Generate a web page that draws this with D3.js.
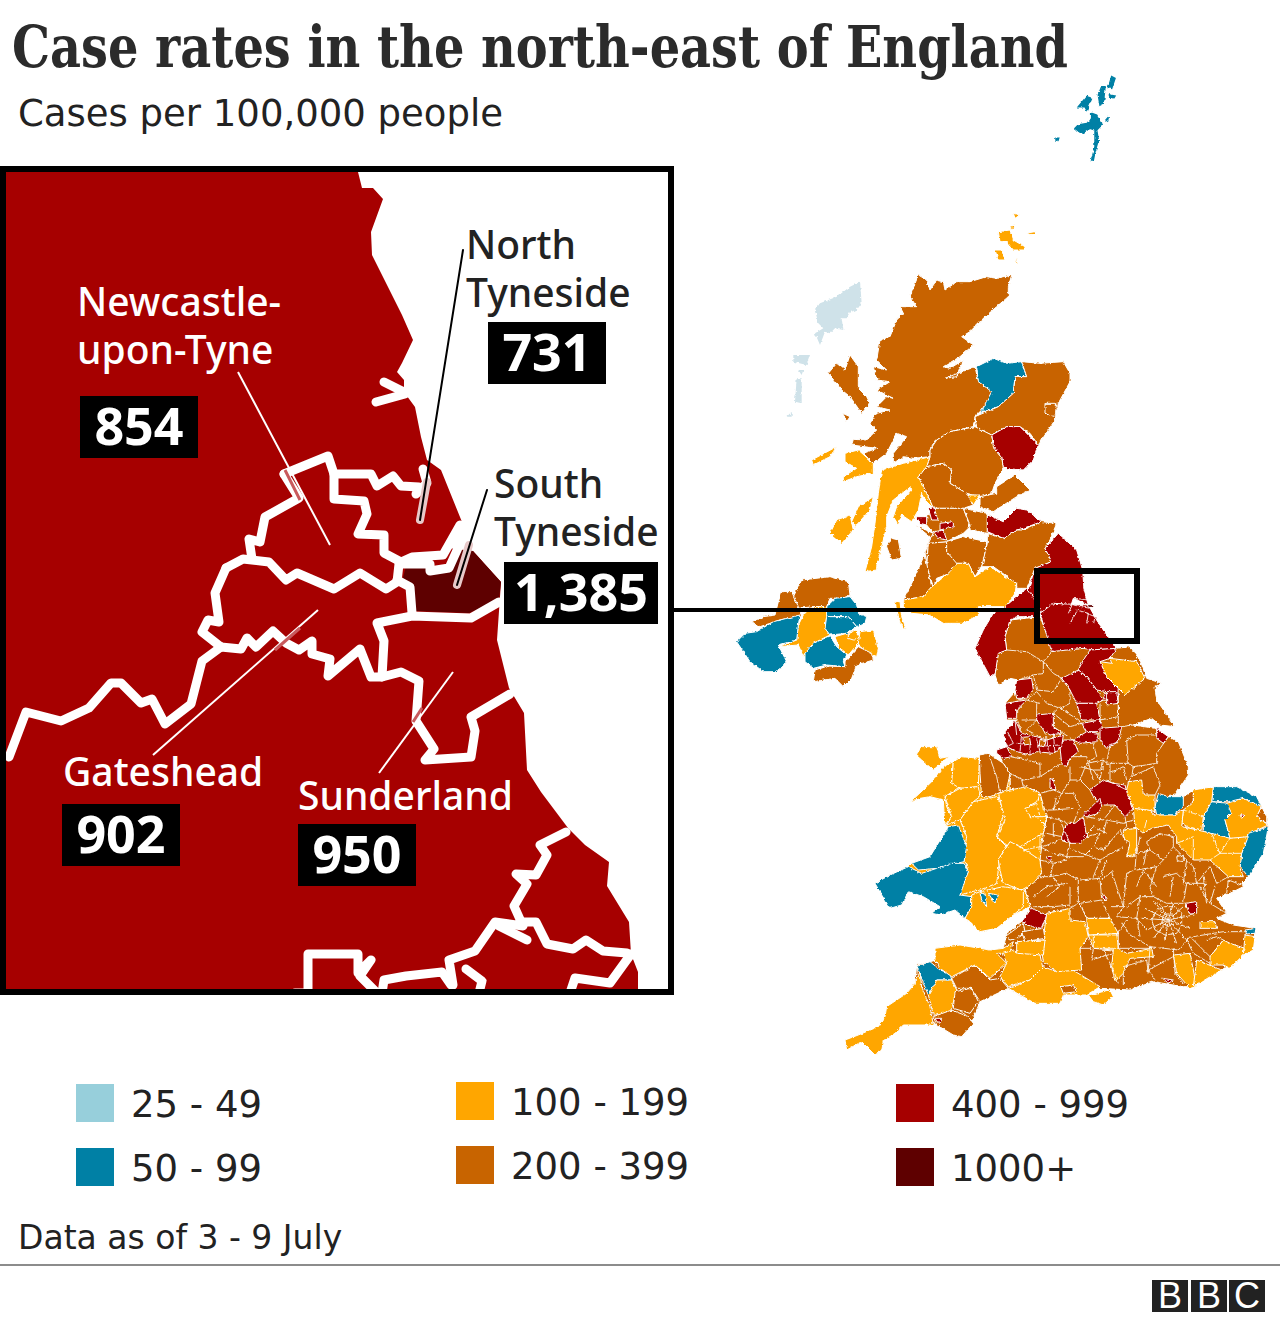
<!DOCTYPE html>
<html>
<head>
<meta charset="utf-8">
<script src="https://cdn.jsdelivr.net/npm/d3@7"></script>
<style>
  html, body { margin: 0; padding: 0; background: #fff; }
  svg text { font-family: "Noto Sans", sans-serif; }
</style>
</head>
<body>
<svg id="chart" width="1280" height="1326">
  <!-- frays the traced coasts and borders a little, like the source map -->
  <filter id="fray" filterUnits="userSpaceOnUse" x="700" y="50" width="580" height="1020">
    <feTurbulence type="fractalNoise" baseFrequency="0.3" numOctaves="2" seed="4" result="noise"></feTurbulence>
    <feDisplacementMap in="SourceGraphic" in2="noise" scale="3.2" xChannelSelector="R" yChannelSelector="G"></feDisplacementMap>
  </filter>
</svg>
<script>
// rate bands
var bandStarts = [50, 100, 200, 400, 1000];
var bandColours = ["#97cfdb", "#0080a5", "#ffa600", "#c86400", "#a60000", "#5e0000"];
var legendLabels = ["25 - 49", "50 - 99", "100 - 199", "200 - 399", "400 - 999", "1000+"];
var legendColumn = [0, 0, 1, 1, 2, 2];
var legendRow = [0, 1, 0, 1, 0, 1];

// callouts in the inset
var calloutNames = [["Newcastle-", "upon-Tyne"], ["North", "Tyneside"], ["South", "Tyneside"], ["Gateshead"], ["Sunderland"]];
var calloutValues = ["854", "731", "1,385", "902", "950"];

// traced outlines, [estimated rate, [x, y], ...], in the units of each sheet
var shetland = [
  [75, [125,285],[135,245],[135,195],[120,190],[95,205],[75,190],[85,180],[115,175],[125,160],[125,145],[140,150],[155,175],[150,185],[140,195],[145,225],[135,260],[130,285]],
  [75, [145,90],[155,65],[165,65],[160,115],[150,120]],
  [75, [175,68],[185,35],[195,40],[185,70]],
  [75, [178,90],[195,93],[192,98],[180,96]],
  [75, [85,125],[110,95],[125,100],[110,135],[105,125]],
  [75, [18,220],[26,220],[24,226],[18,225]],
  [75, [168,165],[175,157],[172,168]]
];

var scotland = [
  [300, [565,225],[590,240],[600,270],[620,240],[640,245],[645,270],[680,245],[720,245],[770,230],[800,235],[845,225],[835,260],[835,290],[800,320],[760,355],[720,395],[695,410],[730,435],[690,470],[640,500],[660,505],[700,480],[680,530],[645,535],[735,500],[745,545],[790,570],[775,610],[745,640],[735,650],[730,680],[660,695],[620,720],[600,750],[600,770],[550,775],[520,770],[490,790],[490,760],[530,710],[500,700],[470,760],[430,790],[400,760],[440,745],[365,735],[370,718],[410,720],[440,690],[420,670],[440,640],[480,630],[440,620],[470,590],[490,595],[440,570],[480,545],[440,540],[430,500],[470,510],[440,480],[450,420],[480,410],[500,360],[520,340],[510,320],[560,320],[540,290]],
  [75, [740,500],[790,475],[830,490],[875,485],[890,530],[855,530],[850,580],[805,620],[750,640],[785,575],[745,545]],
  [300, [875,485],[930,490],[1000,485],[1020,520],[1020,545],[985,610],[975,660],[925,735],[900,700],[870,680],[830,680],[785,705],[740,685],[735,650],[805,620],[850,580],[855,530],[890,530]],
  [300, [945,610],[980,610],[975,650],[945,640]],
  [700, [785,705],[830,680],[870,680],[900,710],[925,735],[910,780],[880,810],[820,805],[815,770],[790,740]],
  [300, [600,750],[620,720],[660,695],[735,680],[785,705],[790,740],[815,770],[820,805],[795,850],[785,880],[750,890],[710,880],[660,850],[665,810],[640,790],[590,800],[600,770]],
  [300, [800,880],[800,860],[855,825],[900,870],[860,890],[790,935],[750,920],[750,890]],
  [150, [710,885],[750,885],[730,915]],
  [300, [565,830],[590,800],[640,790],[665,810],[660,850],[710,880],[730,915],[700,925],[650,925],[610,925],[590,880]],
  [150, [600,770],[590,800],[565,830],[590,880],[610,925],[590,905],[575,880],[565,930],[545,965],[515,945],[505,975],[490,950],[500,920],[545,868],[540,862],[490,900],[470,950],[470,980],[455,1040],[440,1100],[440,1110],[405,1115],[425,1040],[435,970],[445,880],[455,810],[520,790]],
  [150, [345,760],[385,750],[430,790],[430,820],[380,830],[340,845],[340,830],[380,805],[345,785]],
  [150, [245,780],[320,740],[300,770],[250,795]],
  [150, [385,920],[430,890],[420,930],[375,980],[365,965]],
  [150, [320,960],[360,945],[370,990],[335,1030],[300,1000]],
  [300, [485,1015],[505,1020],[515,1075],[485,1080],[470,1040]],
  [300, [360,465],[385,500],[385,565],[410,590],[420,610],[395,640],[360,590],[335,570],[295,520],[320,490],[345,510]],
  [300, [338,640],[360,650],[350,665]],
  [150, [805,95],[840,90],[850,120],[885,140],[885,150],[850,150],[830,125],[810,125]],
  [150, [795,150],[815,150],[825,180],[805,180]],
  [150, [855,180],[865,175],[860,195]],
  [150, [840,80],[855,75],[850,90]],
  [150, [885,100],[915,95],[915,105]],
  [150, [850,40],[870,45],[855,55]],
  [300, [555,975],[610,1000],[595,1030],[590,1090],[585,1060],[600,1010]],
  [300, [595,1030],[650,1025],[650,1055],[690,1090],[660,1120],[620,1135],[610,1160],[590,1100]],
  [300, [590,1090],[605,1160],[580,1190],[520,1200],[555,1130],[585,1060]],
  [300, [650,1025],[700,1010],[770,1025],[760,1090],[735,1130],[715,1090],[680,1090],[650,1055]],
  [300, [610,925],[650,925],[700,925],[720,980],[700,1000],[650,1025],[595,1030],[610,1000],[590,975],[590,950]],
  [300, [700,925],[772,940],[772,1000],[720,990],[720,975]],
  [700, [555,950],[590,950],[590,975],[570,970]],
  [700, [595,925],[610,920],[625,960],[605,960]],
  [700, [630,970],[670,965],[670,980],[630,990]],
  [700, [610,995],[640,990],[650,1020],[625,1015]],
  [700, [772,945],[820,965],[860,925],[890,930],[935,965],[880,985],[860,990],[820,1015],[772,995]],
  [300, [772,1000],[820,1015],[860,990],[880,990],[935,965],[980,970],[960,1020],[945,1045],[965,1085],[915,1105],[890,1165],[860,1165],[860,1150],[790,1100],[755,1100],[772,1030]],
  [150, [680,1090],[715,1090],[735,1130],[780,1100],[860,1150],[855,1180],[830,1220],[745,1220],[745,1245],[700,1270],[640,1270],[600,1245],[545,1240],[520,1220],[520,1200],[580,1190],[600,1165],[660,1115]],
  [150, [495,1205],[510,1205],[515,1250],[530,1290],[510,1270]],
  [700, [985,1000],[1040,1050],[1058,1110],[1062,1170],[1075,1215],[1030,1195],[1015,1240],[950,1270],[920,1215],[890,1185],[915,1105],[965,1085],[945,1045]]
];

var westernIsles = [
  [390,245],[395,310],[380,330],[360,335],[350,355],[335,355],[340,390],[315,385],[300,400],[285,395],[270,435],[255,400],[280,385],[265,370],[255,330],[270,310],[320,290],[360,260]
];
var westernIslesSmall = [
  [[190,465],[240,465],[230,495],[190,485]],
  [[200,535],[215,535],[215,610],[195,605]],
  [[205,510],[220,510],[215,525]],
  [[170,650],[185,635],[185,650]]
];

var ulster = [
  [300, [215,45],[300,35],[355,50],[360,90],[340,100],[300,100],[290,125],[250,125],[205,130],[190,95]],
  [300, [155,80],[185,80],[205,125],[215,150],[150,165],[90,185],[65,170],[100,155],[135,150],[145,110]],
  [75, [290,125],[315,100],[360,95],[380,120],[385,145],[410,155],[405,175],[380,185],[355,155],[290,155]],
  [150, [245,125],[290,125],[290,155],[285,190],[300,210],[250,235],[220,275],[205,240],[145,245],[200,225],[205,180],[220,150]],
  [75, [20,230],[45,205],[80,200],[130,170],[210,150],[205,180],[200,225],[145,240],[170,290],[140,320],[100,320],[60,290]],
  [75, [290,155],[355,155],[380,185],[350,205],[300,210],[285,190]],
  [150, [315,215],[350,205],[370,195],[390,215],[385,235],[355,270],[325,245]],
  [150, [355,205],[375,197],[390,215],[370,225],[355,220]],
  [150, [390,200],[430,195],[445,250],[440,275],[425,270],[390,245],[385,235]],
  [75, [225,265],[250,235],[300,213],[320,245],[350,270],[340,290],[345,305],[290,300],[250,310],[225,290]],
  [300, [345,290],[385,245],[425,265],[430,285],[380,300],[365,340],[340,365],[315,340],[250,350],[255,315],[290,303],[345,305]]
];

var south = [
  // England base
  [300, [500,90],[495,50],[510,0],[600,-10],[640,90],[730,85],[830,85],[870,80],[900,120],[920,175],[965,190],[945,200],[950,240],[1005,320],[960,315],[935,295],[880,315],[945,325],[985,350],[1015,365],[1045,440],[1045,465],[1005,525],[985,530],[1030,530],[1060,510],[1120,500],[1190,500],[1250,530],[1280,590],[1285,620],[1270,700],[1225,770],[1205,790],[1210,800],[1170,820],[1130,835],[1160,880],[1130,895],[1180,915],[1245,925],[1240,990],[1210,1005],[1145,1050],[1060,1100],[1030,1100],[940,1085],[870,1110],[780,1105],[700,1075],[660,1150],[585,1150],[500,1105],[420,1145],[390,1220],[350,1250],[280,1210],[190,1215],[165,1240],[130,1262],[125,1290],[105,1305],[65,1265],[20,1290],[15,1260],[55,1245],[115,1220],[135,1190],[140,1160],[200,1120],[225,1090],[230,1035],[290,1020],[285,985],[360,975],[450,990],[490,985],[500,940],[550,900],[570,860],[555,810],[600,760],[600,720],[540,680],[610,640],[620,590],[590,545],[600,520],[510,510],[510,460],[490,430],[470,390],[500,380],[490,345],[530,300],[500,300],[495,250],[530,210],[535,180],[510,175],[475,195],[465,165],[475,100]],
  // Wales base, closes the gaps between the traced counties
  [150, [212,545],[260,500],[290,470],[310,440],[340,425],[365,410],[418,415],[445,400],[510,460],[510,510],[600,520],[620,590],[610,640],[600,720],[600,760],[555,810],[570,860],[520,885],[470,925],[420,935],[390,905],[375,895],[345,870],[300,885],[275,880],[300,860],[250,830],[205,815],[185,855],[150,865],[125,825],[105,790],[150,765],[205,740],[215,730],[270,710],[325,620],[315,615],[335,590],[320,560],[315,530],[310,540],[270,530],[240,535]],
  // north-east and Cumbria
  [700, [560,-95],[580,-70],[600,-10],[530,-10],[510,0],[495,50],[500,90],[475,100],[465,165],[450,170],[405,85],[430,30],[460,-20],[495,-40]],
  [700, [600,-20],[640,-50],[745,-45],[770,0],[790,30],[830,85],[760,90],[730,85],[635,95]],
  [1200, [742,-46],[760,-46],[762,-37],[745,-38]],
  // Wales
  [150, [245,380],[290,380],[300,415],[325,410],[280,450],[245,420],[228,405]],
  [150, [212,545],[260,500],[290,470],[310,440],[340,425],[335,490],[360,500],[315,530],[320,560],[335,590],[315,615],[312,580],[310,540],[270,530],[240,535]],
  [150, [340,425],[365,410],[418,415],[415,500],[360,505],[335,490]],
  [300, [418,405],[445,400],[490,430],[510,460],[500,510],[450,530],[425,530],[420,460]],
  [150, [315,530],[360,505],[415,500],[420,530],[400,545],[360,600],[320,615],[335,590]],
  [150, [360,600],[400,545],[470,530],[495,570],[470,650],[500,680],[480,710],[470,790],[420,810],[395,815],[360,825],[370,780],[385,755],[370,710],[380,650]],
  [75, [215,730],[270,710],[325,620],[355,615],[380,680],[372,725],[330,735],[290,745],[235,750]],
  [75, [105,790],[150,765],[205,740],[245,760],[290,745],[335,730],[372,730],[385,755],[360,825],[395,830],[395,860],[375,895],[345,870],[300,885],[275,880],[300,860],[250,830],[205,815],[185,855],[150,865],[125,825]],
  [150, [395,825],[420,815],[490,800],[550,810],[550,860],[520,885],[470,925],[420,935],[390,905],[375,895],[395,860]],
  [75, [420,820],[435,820],[440,860],[425,840]],
  [75, [445,820],[475,825],[465,850]],
  // Welsh marches
  [150, [475,520],[510,510],[560,500],[600,520],[590,545],[555,565],[580,590],[620,590],[610,640],[540,680],[500,675],[470,650],[495,600]],
  [150, [510,665],[540,680],[600,720],[605,760],[580,790],[545,810],[490,790],[480,750],[475,720]],
  // south-west
  [150, [15,1260],[55,1245],[115,1220],[135,1190],[140,1160],[200,1120],[225,1090],[240,1055],[245,1100],[270,1160],[280,1215],[190,1215],[165,1240],[130,1262],[125,1290],[105,1305],[65,1265],[20,1290]],
  [75, [228,1040],[270,1025],[300,1050],[330,1060],[335,1080],[290,1080],[265,1125],[250,1090],[240,1060]],
  [150, [290,1080],[335,1080],[350,1110],[335,1165],[325,1185],[280,1185],[265,1125]],
  [300, [280,1190],[335,1170],[385,1190],[400,1210],[365,1250],[340,1245],[290,1215]],
  [700, [283,1195],[305,1195],[300,1210]],
  [300, [345,1115],[395,1105],[415,1145],[390,1180],[340,1165]],
  [300, [335,1075],[405,1035],[450,1080],[480,1075],[505,1105],[420,1145],[395,1105],[350,1105]],
  [150, [285,985],[360,975],[450,990],[490,985],[520,965],[510,1000],[470,1000],[500,1030],[450,1075],[405,1035],[335,1070],[300,1045],[285,1020]],
  [150, [490,1000],[520,990],[600,1005],[610,1050],[570,1080],[505,1100],[480,1070],[500,1030]],
  [150, [505,1105],[570,1080],[610,1040],[650,1055],[690,1045],[780,1100],[740,1125],[670,1125],[660,1150],[585,1150]],
  [150, [620,880],[690,865],[690,900],[735,905],[745,950],[720,985],[725,1050],[650,1055],[610,1025],[605,990]],
  [300, [495,950],[550,910],[555,935],[530,955],[510,960]],
  [300, [545,935],[610,925],[615,955],[555,965]],
  [150, [530,965],[615,960],[610,1005],[530,1000]],
  [700, [575,865],[620,885],[605,925],[575,920],[545,905]],
  [300, [662,1100],[700,1095],[710,1115],[670,1120]],
  [150, [745,1125],[810,1110],[820,1130],[790,1155],[760,1145]],
  // south and south-east
  [150, [745,945],[830,940],[835,985],[860,1000],[935,985],[940,1010],[870,1015],[850,1060],[825,1085],[815,1040],[820,990],[760,985]],
  [150, [740,895],[810,895],[835,940],[745,945]],
  [150, [1000,1005],[1050,1000],[1070,1100],[1050,1105],[1010,1060]],
  [150, [1070,1020],[1120,1040],[1145,1050],[1060,1100]],
  [150, [1110,1010],[1150,960],[1170,970],[1215,985],[1210,1005],[1170,1045],[1150,1035],[1110,1035]],
  [150, [1215,945],[1245,950],[1240,990],[1210,1005]],
  [75, [1215,930],[1248,925],[1245,940],[1220,942]],
  [150, [1080,905],[1125,905],[1130,925],[1080,925]],
  [700, [1035,850],[1070,845],[1070,880],[1050,882]],
  [700, [968,1075],[1000,1080],[985,1090]],
  [700, [785,830],[795,825],[800,845]],
  [700, [620,710],[635,710],[632,725]],
  // East Anglia
  [75, [1120,500],[1190,500],[1250,530],[1265,560],[1210,535],[1165,545],[1115,545]],
  [75, [1090,590],[1110,545],[1170,550],[1175,580],[1155,600],[1170,655],[1115,650],[1090,630]],
  [75, [955,520],[985,530],[1030,530],[1030,560],[1000,585],[950,585],[945,560]],
  [150, [1160,550],[1210,535],[1265,560],[1250,590],[1285,615],[1230,640],[1225,655],[1170,655],[1155,600],[1175,580]],
  [700, [1200,585],[1215,585],[1205,595]],
  [300, [1265,560],[1280,590],[1280,610],[1250,590]],
  [75, [1225,640],[1285,620],[1270,700],[1225,770],[1200,740],[1205,700]],
  [150, [1060,510],[1120,500],[1115,545],[1090,590],[1085,635],[1050,625],[1025,610],[1030,570],[1060,545]],
  [150, [880,565],[925,570],[945,585],[1000,585],[1030,570],[1025,620],[1050,625],[1115,640],[1170,655],[1225,650],[1205,700],[1200,745],[1210,770],[1165,770],[1110,720],[1060,720],[1010,670],[1010,650],[985,615],[935,625],[910,640],[885,620]],
  [150, [865,485],[905,480],[910,525],[945,525],[945,575],[925,570],[880,565],[860,510]],
  [150, [850,630],[890,625],[890,680],[880,710],[860,710],[870,670],[850,655]],
  // Yorkshire and the north
  [150, [780,125],[815,130],[810,115],[890,125],[915,175],[855,225],[835,205],[800,170]],
  [700, [730,120],[750,90],[830,85],[810,115],[780,125],[800,170],[835,205],[830,250],[790,235],[800,215],[770,210],[740,170],[715,150]],
  [700, [665,175],[715,150],[740,170],[770,210],[790,240],[770,250],[710,250],[690,210]],
  [700, [800,215],[830,215],[835,250],[800,255]],
  [700, [710,250],[770,250],[780,300],[725,300]],
  [700, [725,310],[780,300],[790,335],[740,335]],
  [700, [780,325],[845,320],[835,365],[800,385],[780,360]],
  [700, [700,360],[740,335],[775,340],[770,365],[720,370]],
  [700, [950,325],[985,350],[970,370],[950,355]],
  [700, [670,360],[700,360],[715,395],[690,415],[680,440],[665,430],[660,380]],
  [700, [530,180],[575,175],[580,210],[560,235],[530,235],[525,210]],
  [700, [495,250],[560,240],[530,270],[530,295],[500,295]],
  [700, [490,345],[525,300],[545,340],[590,350],[620,360],[670,345],[665,380],[640,400],[590,395],[570,405],[530,395],[500,380]],
  [300, [548,352],[568,350],[572,372],[552,375]],
  [300, [600,358],[618,362],[612,380],[598,378]],
  [700, [470,390],[500,380],[515,410],[490,415],[470,400]],
  [700, [590,285],[640,280],[640,320],[665,340],[630,345],[610,330],[590,300]],
  [700, [630,475],[640,480],[648,510],[630,505]],
  // midlands
  [700, [750,510],[790,480],[820,490],[855,495],[860,515],[880,565],[855,590],[825,555],[790,555],[760,530]],
  [700, [730,585],[780,535],[785,560],[775,580],[740,590]],
  [700, [665,650],[680,610],[705,610],[730,590],[740,650],[720,670],[690,670],[665,660]],
  [150, [555,565],[590,550],[600,590],[570,590]]
];

// thin district borders with no change of colour
var districtLines = [
  [[610,125],[640,160],[665,175],[690,210],[690,250],[660,265]],
  [[500,90],[560,95],[610,125],[640,90]],
  [[580,165],[610,160],[610,125]],[[535,180],[580,165],[590,210],[640,215],[665,175]],
  [[530,240],[565,235],[590,215],[620,250],[660,265],[700,290],[725,310]],
  [[780,250],[780,300],[835,290],[835,250]],[[835,225],[835,320]],[[845,320],[950,305]],
  [[860,360],[890,345],[950,345]],[[860,360],[865,430],[880,440],[950,430],[950,400],[985,350]],
  [[875,470],[940,440],[960,495],[945,525]],[[800,430],[810,375],[835,365]],[[800,430],[865,430]],[[880,440],[875,470],[865,485]],
  [[515,410],[600,430],[600,470],[550,480],[510,460]],[[445,400],[470,470],[480,520]],[[600,470],[640,445],[665,430]],[[545,480],[550,500]],
  [[600,520],[640,510],[665,520],[690,480],[690,440]],[[690,410],[740,410],[760,480]],
  [[600,520],[610,570],[640,570],[665,520]],[[620,590],[660,600],[680,610]],[[620,640],[665,650]],
  [[610,680],[660,660],[690,670],[680,710],[730,710],[760,680],[780,640],[740,650]],
  [[550,690],[600,680],[640,700],[680,710]],[[600,720],[640,730],[630,770],[600,770]],
  [[630,770],[680,760],[715,780],[715,850],[690,865]],[[580,830],[620,800],[680,790]],
  [[720,780],[780,775],[785,840],[720,850]],[[640,860],[690,855]],[[785,780],[815,755],[850,860],[830,890]],
  [[740,895],[720,850]],[[810,895],[785,840]],[[700,690],[780,720],[760,770]],
  [[760,680],[790,690],[840,630],[860,670]],[[780,720],[850,680]],
  [[790,600],[825,555]],[[855,590],[860,620],[850,630]],[[740,590],[790,600]],[[720,480],[750,510]],
  [[690,480],[720,480],[740,430],[790,420],[800,430]],[[790,420],[780,480]],[[740,430],[770,410],[760,370]],[[860,510],[800,480]],[[690,670],[660,600]],
  [[860,710],[890,700],[930,690]],[[890,680],[885,750],[860,760],[850,860]],[[890,750],[950,740],[970,720]],
  [[950,740],[930,800],[940,830]],[[1000,680],[1040,720],[1060,740],[1070,790]],[[960,640],[920,665],[930,690],[970,720],[1000,680],[1000,650],[960,640]],
  [[970,770],[1010,760],[1040,790],[1030,850]],[[1070,790],[1110,740],[1130,790],[1165,770]],[[1070,790],[1110,850],[1160,880]],[[1110,850],[1125,800]],
  [[1165,780],[1205,795]],[[1165,780],[1160,820]],[[940,830],[980,850],[1030,850]],[[1040,790],[1100,790]],
  [[1010,710],[1030,705],[1030,725],[1012,722],[1010,710]],
  // more of the midlands and the east
  [[640,570],[650,530]],[[700,520],[720,560],[700,610]],[[665,520],[700,520]],[[640,570],[700,565]],[[640,610],[640,650]],
  [[780,480],[760,450],[720,440]],[[760,450],[790,450]],[[810,460],[850,440],[860,480]],[[810,430],[810,480]],
  [[880,600],[850,610],[800,600]],[[800,600],[790,640]],[[730,650],[760,620],[800,640]],[[600,600],[620,620]],
  [[600,690],[600,650]],[[640,730],[680,720]],[[640,770],[660,800],[620,830]],[[580,860],[640,860]],[[690,800],[690,860]],[[780,775],[800,720]],
  [[890,800],[910,750],[950,800]],[[860,860],[900,830],[940,830]],[[900,830],[890,895]],[[1000,770],[990,830]],[[1040,720],[1030,790]],[[1090,770],[1100,850]],
  [[920,690],[910,740]],[[890,700],[900,650]],[[1010,670],[1060,650],[1060,720]],[[1115,640],[1140,700],[1110,720]],[[1170,655],[1140,700]],[[1205,700],[1140,700]],
  [[1060,510],[1060,545]],[[1030,570],[1090,590]],[[910,640],[920,600]],
  [[815,860],[850,860]],[[720,850],[740,895],[810,895]],[[890,895],[920,930]],[[830,890],[890,895]],[[1040,960],[1060,1000]],[[835,985],[935,985]],
  // London
  [[985,900],[940,840]],[[985,900],[960,850]],[[985,900],[1000,850]],[[985,900],[1030,860]],[[985,900],[1060,885]],[[985,900],[1050,925]],[[985,900],[1040,960]],
  [[985,900],[1010,970]],[[985,900],[975,965]],[[985,900],[940,955]],[[985,900],[920,930]],[[985,900],[905,895]],[[985,900],[915,865]],
  [[950,870],[975,860],[1005,860],[1025,880],[1025,915],[1010,940],[975,945],[945,930],[935,900],[950,870]],
  [[970,885],[1000,885],[1005,905],[985,920],[965,910],[970,885]],
  // south of the Thames
  [[870,945],[930,980],[1015,990],[1050,950]],[[930,985],[925,1050],[945,1080]],[[1000,985],[1005,1060],[1030,1090]],
  [[760,945],[835,945],[835,985],[760,985],[760,945]],[[720,985],[760,985],[755,1020],[820,1000]],[[790,990],[820,1050],[835,1090]],
  [[850,1040],[920,1020],[925,1060]],[[850,1060],[850,1095]],[[925,1050],[1000,1010]],[[1050,950],[1110,1010]],
  [[1060,950],[1150,935],[1215,935]],[[1100,960],[1130,950],[1150,960],[1110,1010]],[[1060,1000],[1110,1030]],
  [[870,945],[840,900]],[[830,945],[860,900]],[[890,895],[900,950]],
  // Lancashire and Greater Manchester
  [[525,300],[530,345]],[[545,340],[540,395]],[[570,375],[570,405]],[[590,355],[600,395]],[[620,350],[625,395]],[[640,340],[645,400]],
  [[500,330],[520,370],[500,380]],[[530,370],[550,372]],[[615,378],[660,375]],[[545,300],[590,300]],[[590,300],[560,330],[600,350]],
  [[530,295],[545,335]],[[640,320],[700,360]],[[640,280],[660,260]],[[610,330],[620,350]],[[590,250],[590,285]],[[560,240],[600,250]],[[640,280],[690,320],[725,310]],
  // inside the inset box on the small map
  [[685,-20],[705,-65],[745,-60]],[[700,-45],[750,-35]],[[710,-30],[745,-20],[740,10]],[[740,-20],[765,-10],[760,15]],[[690,10],[710,-25]]
];

// the zoomed inset, drawn in picture pixels
var insetLand = [[6,172],[358,172],[362,188],[373,188],[383,199],[371,232],[372,255],[402,315],[413,340],[402,363],[397,372],[404,380],[404,392],[415,407],[421,437],[427,460],[441,470],[462,522],[448,548],[473,551],[501,582],[497,640],[509,688],[524,713],[527,770],[541,792],[568,828],[585,845],[609,862],[607,886],[629,922],[631,954],[638,972],[638,990],[6,990]];
var southTyneside = [[406,566],[430,566],[449,569],[460,550],[473,551],[501,582],[499,600],[469,613],[416,611],[412,587],[403,578]];
var insetBorders = [
  [[284,474],[328,456],[334,474],[371,474],[377,486],[393,476],[401,486],[419,487],[416,494],[427,483],[423,469]],
  [[334,474],[334,499],[364,501],[367,514],[358,534],[384,535],[384,553],[401,562],[412,557],[443,555],[460,525]],
  [[284,474],[299,498],[265,517],[260,542],[249,539],[252,559]],
  [[226,568],[243,559],[269,562],[286,580],[297,573],[334,589],[360,573],[386,589],[397,582],[399,564],[430,564],[430,571],[449,568],[458,548]],
  [[397,580],[410,587],[412,613]],
  [[499,602],[471,618],[412,616],[377,623],[384,641],[382,677]],
  [[226,568],[215,593],[219,622],[208,620],[202,632],[221,647]],
  [[221,647],[241,649],[247,638],[256,647],[273,631],[286,643],[299,650],[312,641],[312,654],[330,659],[328,676],[360,649],[371,677],[382,677],[401,672],[419,681],[416,721],[434,749],[425,760],[471,757],[475,731],[471,717],[510,694]],
  [[221,647],[202,661],[191,704],[165,724],[152,699],[141,703],[121,683],[111,683],[89,708],[61,721],[26,712],[9,757]],
  [[566,832],[540,845],[547,855],[536,875],[516,874],[527,884],[514,906],[523,926],[495,922],[475,951],[449,960],[453,985]],
  [[523,922],[536,922],[547,944],[573,949],[586,940],[603,951],[627,953]],
  [[499,926],[527,940]],
  [[451,985],[442,972],[406,976],[384,980],[382,993]],
  [[466,969],[482,981],[479,993]],
  [[295,993],[308,993],[308,954],[358,954],[358,973],[371,960],[360,976],[377,993]],
  [[631,954],[610,983],[575,978],[570,993]],
  // the two river mouths on the coast
  [[384,382],[404,392]],[[376,402],[405,394]]
];

var svg = d3.select("#chart");

var colour = d3.scaleThreshold().domain(bandStarts).range(bandColours);

// one line generator per traced sheet
function sheet(xd, xr, yd, yr) {
  var x = d3.scaleLinear().domain(xd).range(xr);
  var y = d3.scaleLinear().domain(yd).range(yr);
  return d3.line().x(d => x(d[0])).y(d => y(d[1]));
}
var scotLine = sheet([0, 1260], [730, 1150], [0, 1290], [200, 630]);
var southLine = sheet([0, 1320], [840, 1280], [0, 1320], [620, 1060]);
var ulsterLine = sheet([0, 480], [730, 890], [0, 390], [565, 695]);
var shetlandLine = sheet([0, 240], [1050, 1130], [0, 315], [65, 170]);
var pageLine = sheet([0, 1280], [0, 1280], [0, 1326], [0, 1326]);

var mapGroup = svg.append("g").attr("filter", "url(#fray)");

function drawAreas(rows, lineGen, strokeWidth) {
  mapGroup.append("g").selectAll("path").data(rows).join("path")
    .attr("d", d => lineGen(d.slice(1)) + "Z")
    .attr("fill", d => colour(d[0]))
    .attr("stroke", "#fff")
    .attr("stroke-width", strokeWidth)
    .attr("stroke-linejoin", "round");
}

// small map
mapGroup.append("g").selectAll("path").data(westernIslesSmall.concat([westernIsles])).join("path")
  .attr("d", d => scotLine(d) + "Z")
  .attr("fill", "#cfe2e9");
mapGroup.append("g").selectAll("path").data(shetland).join("path")
  .attr("d", d => shetlandLine(d.slice(1)) + "Z")
  .attr("fill", d => colour(d[0]))
  .attr("stroke", d => colour(d[0]))
  .attr("stroke-width", 1.5);
drawAreas(ulster, ulsterLine, 1);
drawAreas(scotland, scotLine, 1);
drawAreas(south, southLine, 1);
mapGroup.append("g").selectAll("path").data(districtLines).join("path")
  .attr("d", d => southLine(d))
  .attr("fill", "none")
  .attr("stroke", "#fff")
  .attr("stroke-width", 1)
  .attr("opacity", 0.85);

// where the inset sits
svg.append("rect").attr("x", 1037).attr("y", 571).attr("width", 100).attr("height", 70)
  .attr("fill", "none").attr("stroke", "#000").attr("stroke-width", 6);
svg.append("line").attr("x1", 672).attr("x2", 1037).attr("y1", 610).attr("y2", 610)
  .attr("stroke", "#000").attr("stroke-width", 4);

// inset
svg.append("path").attr("d", pageLine(insetLand) + "Z").attr("fill", colour(700));
svg.append("path").attr("d", pageLine(southTyneside) + "Z").attr("fill", colour(1385));
svg.append("g").selectAll("path").data(insetBorders).join("path")
  .attr("d", d => pageLine(d))
  .attr("fill", "none")
  .attr("stroke", "#fff")
  .attr("stroke-width", 9)
  .attr("stroke-linejoin", "round")
  .attr("stroke-linecap", "round");
svg.append("rect").attr("x", 3).attr("y", 169).attr("width", 668).attr("height", 823)
  .attr("fill", "none").attr("stroke", "#000").attr("stroke-width", 6);

// leader lines
var haloLines = [[[427, 482], [420, 520]], [[469, 545], [457, 585]]];
var tintLines = [[[285, 470], [300, 500]], [[300, 628], [275, 650]], [[422, 708], [413, 722]]];
var whiteLeaders = [[[238, 372], [330, 545]], [[318, 610], [153, 755]], [[453, 672], [379, 773]]];
var blackLeaders = [[[463, 250], [420, 520]], [[487, 490], [457, 585]]];

svg.append("g").selectAll("path").data(haloLines).join("path")
  .attr("d", d => pageLine(d)).attr("stroke", "#e8c9c9").attr("stroke-width", 8).attr("stroke-linecap", "round");
svg.append("g").selectAll("path").data(whiteLeaders).join("path")
  .attr("d", d => pageLine(d)).attr("stroke", "#fff").attr("stroke-width", 2);
svg.append("g").selectAll("path").data(tintLines).join("path")
  .attr("d", d => pageLine(d)).attr("stroke", "#c8595c").attr("stroke-width", 3);
svg.append("g").selectAll("path").data(blackLeaders).join("path")
  .attr("d", d => pageLine(d)).attr("stroke", "#000").attr("stroke-width", 2).attr("stroke-linecap", "round");

// callout labels and value boxes
var labelX = [77, 466, 494, 63, 298];
var labelY = [316, 259, 498, 786, 810];
var labelColour = ["#fff", "#222", "#222", "#fff", "#fff"];
var boxX = [80, 488, 504, 62, 298];
var boxY = [396, 322, 562, 804, 824];
var boxW = [118, 118, 154, 118, 118];

calloutNames.forEach((lines, i) => {
  var label = svg.append("text").attr("x", labelX[i]).attr("y", labelY[i])
    .attr("font-size", 39).attr("font-weight", 500).attr("fill", labelColour[i]);
  lines.forEach((line, j) => {
    label.append("tspan").attr("x", labelX[i]).attr("dy", j == 0 ? 0 : 48).text(line);
  });
  svg.append("rect").attr("x", boxX[i]).attr("y", boxY[i]).attr("width", boxW[i]).attr("height", 62).attr("fill", "#000");
  svg.append("text").attr("x", boxX[i] + boxW[i] / 2).attr("y", boxY[i] + 49)
    .attr("text-anchor", "middle").attr("font-size", 52).attr("font-weight", 700).attr("fill", "#fff")
    .text(calloutValues[i]);
});

// title block
svg.append("text").attr("x", 12).attr("y", 67).attr("font-size", 57).attr("font-weight", 700)
  .style("font-family", '"DejaVu Serif Condensed", "DejaVu Serif", serif').attr("fill", "#2b2b2b")
  .attr("textLength", 1056).attr("lengthAdjust", "spacingAndGlyphs")
  .text("Case rates in the north-east of England");
svg.append("text").attr("x", 18).attr("y", 126).attr("font-size", 37).attr("fill", "#222")
  .style("font-family", '"DejaVu Sans", sans-serif')
  .text("Cases per 100,000 people");

// legend
var legendX = [76, 456, 896];
var legendTop = [1084, 1082, 1084];
legendLabels.forEach((label, i) => {
  var x = legendX[legendColumn[i]];
  var y = legendTop[legendColumn[i]] + legendRow[i] * 64;
  svg.append("rect").attr("x", x).attr("y", y).attr("width", 38).attr("height", 38).attr("fill", bandColours[i]);
  svg.append("text").attr("x", x + 55).attr("y", y + 33).attr("font-size", 37).attr("fill", "#222")
    .style("font-family", '"DejaVu Sans", sans-serif').text(label);
});

// footer
svg.append("text").attr("x", 18).attr("y", 1249).attr("font-size", 33).attr("fill", "#222")
  .style("font-family", '"DejaVu Sans", sans-serif').text("Data as of 3 - 9 July");
svg.append("line").attr("x1", 0).attr("x2", 1280).attr("y1", 1265).attr("y2", 1265).attr("stroke", "#666").attr("stroke-width", 1.5);

var logoLetters = ["B", "B", "C"];
var logoX = [1152, 1191, 1229];
logoLetters.forEach((letter, i) => {
  svg.append("rect").attr("x", logoX[i]).attr("y", 1280).attr("width", 36).attr("height", 32).attr("fill", "#222");
  svg.append("text").attr("x", logoX[i] + 18).attr("y", 1308).attr("text-anchor", "middle")
    .attr("font-size", 36).attr("fill", "#fff")
    .style("font-family", '"Liberation Sans", sans-serif').text(letter);
});
</script>
</body>
</html>
